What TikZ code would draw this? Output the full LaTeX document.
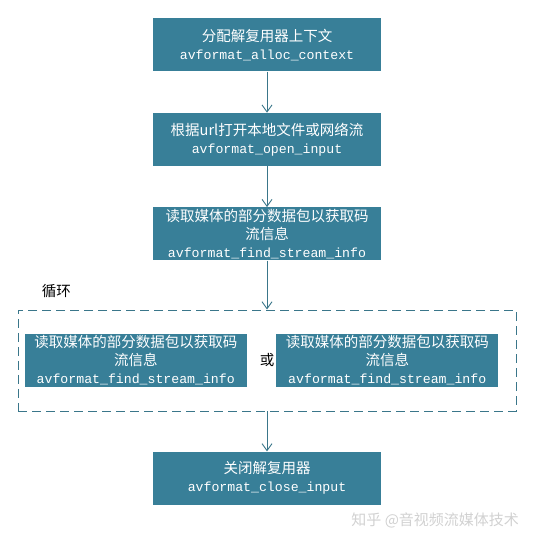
\documentclass[tikz,border=0pt]{standalone}
\usepackage{fontspec}
\setmonofont{Liberation Mono}
\newfontfamily\cjk{Noto Sans CJK SC}
\usetikzlibrary{arrows.meta, positioning}

\definecolor{boxteal}{RGB}{56,127,152}
\definecolor{lineteal}{RGB}{58,118,138}
\newcommand{\fn}[1]{{\ttfamily\fontsize{13.2}{18}\selectfont #1}}

\begin{document}
\begin{tikzpicture}[>={Straight Barb[length=7pt, width=10pt]}, x=1pt, y=1pt, font=\cjk\fontsize{14.5}{18}\selectfont]
  \tikzset{
    proc/.style={
      rectangle,
      fill=boxteal,
      text=white,
      minimum width=228pt,
      minimum height=53pt,
      inner sep=1pt,
      align=center},
    loopbox/.style={
      rectangle,
      draw=lineteal,
      dash pattern=on 9pt off 5pt,
      line width=0.9pt,
      minimum width=498pt,
      minimum height=101pt},
    blank/.style={
      inner sep=0pt,
      text centered},
    link/.style={
      draw=lineteal,
      line width=0.9pt}}

  \useasboundingbox (0,0) rectangle (535,-537);

  \node[proc] (alloc) at (267,-45) {分配解复用器上下文\\ \fn{avformat\_alloc\_context}};
  \node[proc] (open) [below=41pt of alloc] {根据url打开本地文件或网络流\\ \fn{avformat\_open\_input}};
  \node[proc] (find) [below=41pt of open] {读取媒体的部分数据包以获取码\\ 流信息\\ \fn{avformat\_find\_stream\_info}};
  \node[loopbox] (loop) [below=49pt of find] {};
  \node[blank] (looplabel) [above right=12pt and 24pt of loop.north west] {循环};
  \node[proc, minimum width=222pt] (readl) [right=7pt of loop.west] {读取媒体的部分数据包以获取码\\ 流信息\\ \fn{avformat\_find\_stream\_info}};
  \node[proc, minimum width=222pt] (readr) [left=18pt of loop.east] {读取媒体的部分数据包以获取码\\ 流信息\\ \fn{avformat\_find\_stream\_info}};
  \node[blank] (or) at (loop.center) {或};
  \node[proc] (close) [below=40pt of loop] {关闭解复用器\\ \fn{avformat\_close\_input}};
  \node[blank, text=black!18, font=\cjk\fontsize{15}{18}\selectfont] (mark) [below right=8pt and -30pt of close.south east] {知乎 @音视频流媒体技术};

  \path[->, link] (alloc) edge (open);
  \path[->, link] (open) edge (find);
  \path[->, link] (find) edge (loop);
  \path[->, link] (loop) edge (close);

\end{tikzpicture}
\end{document}
